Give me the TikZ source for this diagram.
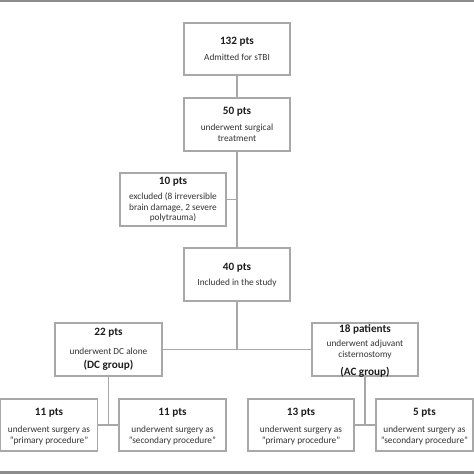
\documentclass[tikz,border=0pt]{standalone}
\usepackage{fontspec}
\setmainfont{Carlito}
\definecolor{boxline}{HTML}{A8A8A8}
\definecolor{barline}{HTML}{8C8C8C}
\definecolor{txt}{HTML}{333333}
\definecolor{ttl}{HTML}{1E1E1E}
\newcommand{\sq}{\symbol{34}}
\begin{document}
\begin{tikzpicture}[x=1pt,y=-1pt,
  box/.style={draw=boxline,line width=1.1pt,rectangle,inner sep=0pt,fill=white},
  conn/.style={draw=boxline,line width=1.1pt},
  ttlt/.style={font=\fontsize{11.2}{13}\selectfont\bfseries,text=ttl,inner sep=0pt},
  bodyt/.style={font=\fontsize{9.3}{10.5}\selectfont,text=txt,inner sep=0pt,align=center}]
\useasboundingbox (0,0) rectangle (474,474);
\fill[barline] (0,0) rectangle (474,2.2);
\fill[barline] (0,471) rectangle (474,474);
% boxes
\node[box,minimum width=106pt,minimum height=52pt] (b1) at (237,49) {};
\node[box,minimum width=106pt,minimum height=53pt] (b2) at (237,124.5) {};
\node[box,minimum width=106pt,minimum height=53pt] (b3) at (173,199.5) {};
\node[box,minimum width=106pt,minimum height=53pt] (b4) at (237,274.5) {};
\node[box,minimum width=107pt,minimum height=53pt] (dc) at (108.5,349.5) {};
\node[box,minimum width=106pt,minimum height=53pt] (ac) at (365,349.5) {};
\node[box,minimum width=97pt,minimum height=52pt] (c1) at (49,425) {};
\node[box,minimum width=107pt,minimum height=52pt] (c2) at (172.5,425) {};
\node[box,minimum width=106pt,minimum height=52pt] (c3) at (301,425) {};
\node[box,minimum width=97pt,minimum height=52pt] (c4) at (424.5,425) {};
% connectors
\coordinate (m3) at (b2.south |- b3.east);
\coordinate (j1) at (b4.south |- dc.east);
\coordinate (jd) at (dc.south |- c1.east);
\coordinate (ja) at (ac.south |- c3.east);
\draw[conn] (b1.south) -- (b2.north);
\draw[conn] (b2.south) -- (b4.north);
\draw[conn] (b3.east) -- (m3);
\draw[conn] (b4.south) -- (j1);
\draw[conn] (dc.east) -- (ac.west);
\draw[conn] (dc.south) -- (jd);
\draw[conn] (c1.east) -- (c2.west);
\draw[conn] (ac.south) -- (ja);
\draw[conn] (c3.east) -- (c4.west);
% texts
\node[ttlt] (t1) at (237,42) {132 pts};
\node[bodyt] (s1) at (237,57) {Admitted for sTBI};
\node[ttlt] (t2) at (237,112) {50 pts};
\node[bodyt] (s2) at (237,133) {underwent surgical\\treatment};
\node[ttlt] (t3) at (173,182) {10 pts};
\node[bodyt] (s3) at (173,207.5) {excluded (8 irreversible\\brain damage, 2 severe\\polytrauma)};
\node[ttlt] (t4) at (237,268) {40 pts};
\node[bodyt] (s4) at (237,283) {Included in the study};
\node[ttlt] (t5) at (108.5,333) {22 pts};
\node[bodyt] (s5) at (108.5,351) {underwent DC alone};
\node[ttlt] (g5) at (108.5,365) {(DC group)};
\node[ttlt] (t6) at (365,329) {18 patients};
\node[bodyt] (s6) at (365,349.5) {underwent adjuvant\\cisternostomy};
\node[ttlt] (g6) at (365,372) {(AC group)};
\node[ttlt] (t7) at (49,413) {11 pts};
\node[bodyt] (s7) at (49,435.5) {underwent surgery as\\\sq primary procedure\sq};
\node[ttlt] (t8) at (172.5,413) {11 pts};
\node[bodyt] (s8) at (172.5,435.5) {underwent surgery as\\\sq secondary procedure\sq};
\node[ttlt] (t9) at (301,413) {13 pts};
\node[bodyt] (s9) at (301,435.5) {underwent surgery as\\\sq primary procedure\sq};
\node[ttlt] (t10) at (424.5,413) {5 pts};
\node[bodyt] (s10) at (424.5,435.5) {underwent surgery as\\\sq secondary procedure\sq};
\end{tikzpicture}
\end{document}
